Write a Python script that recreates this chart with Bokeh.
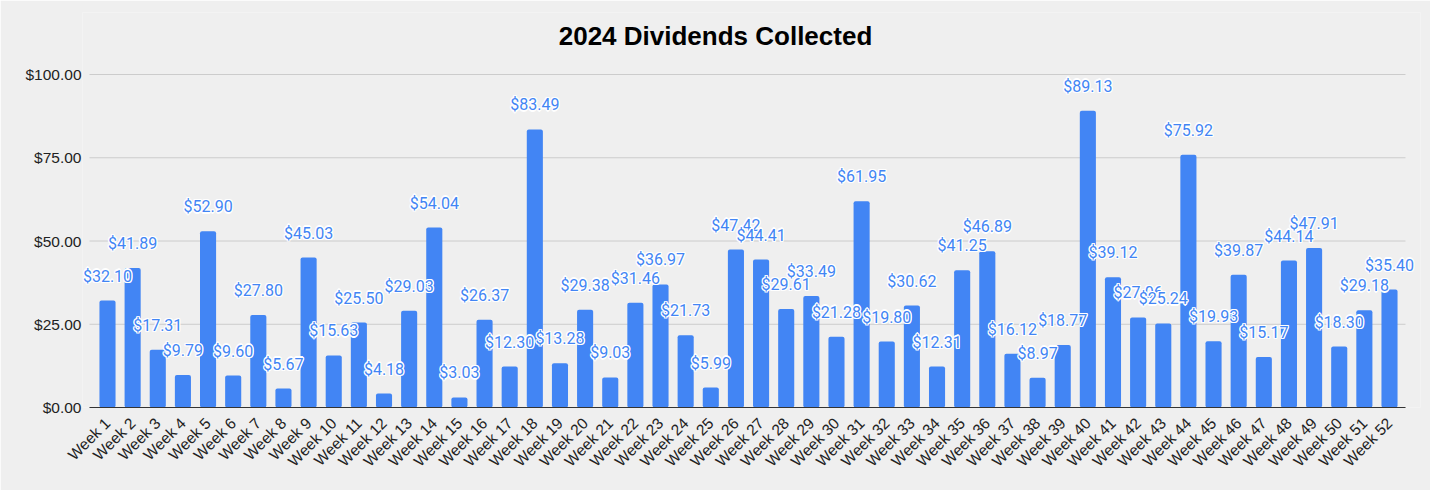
from math import pi

from bokeh.core.properties import value
from bokeh.embed import file_html
from bokeh.models import (ColumnDataSource, FixedTicker, Label, LabelSet,
                          NumeralTickFormatter, Range1d)
from bokeh.plotting import figure
from bokeh.resources import INLINE

# Weekly dividend income for 2024
weeks = [f"Week {i}" for i in range(1, 53)]
dividends = [
    32.10, 41.89, 17.31, 9.79, 52.90, 9.60, 27.80, 5.67, 45.03, 15.63,
    25.50, 4.18, 29.03, 54.04, 3.03, 26.37, 12.30, 83.49, 13.28, 29.38,
    9.03, 31.46, 36.97, 21.73, 5.99, 47.42, 44.41, 29.61, 33.49, 21.28,
    61.95, 19.80, 30.62, 12.31, 41.25, 46.89, 16.12, 8.97, 18.77, 89.13,
    39.12, 27.06, 25.24, 75.92, 19.93, 39.87, 15.17, 44.14, 47.91, 18.30,
    29.18, 35.40,
]
y_ticks = [0, 25, 50, 75, 100]
title_text = "2024 Dividends Collected"

BLUE = "#4285F4"
BG = "#efefef"
W, H = 1430, 490

# canvas layout in pixels: the frame is larger than the gridded area so
# value labels and the title are never clipped
FRAME_L, FRAME_R, FRAME_T, FRAME_B = 82, 1420, 12, 407
GRID_L, GRID_R, GRID_T = 89, 1405, 74
FIRST_C, LAST_C = 107, 1389          # centres of the first / last bar
TITLE_X, TITLE_BASE = 715, 35

n = len(weeks)
px_per_week = (LAST_C - FIRST_C) / (n - 1)
px_per_dollar = (FRAME_B - GRID_T) / y_ticks[-1]


def xdata(px):
    return 1 + (px - FIRST_C) / px_per_week


def ydata(px):
    return (FRAME_B - px) / px_per_dollar


positions = list(range(1, n + 1))
bars = ColumnDataSource(dict(x=positions, top=dividends, week=weeks))

# value labels: each label gets a white halo drawn just before its own text,
# so later labels sit on top of earlier ones
halo_offsets = [(-1.2, 0), (1.2, 0), (0, -1.2), (0, 1.2),
                (-1, -1), (1, -1), (-1, 1), (1, 1)]
lx, ly, lt, lc, lxo, lyo = [], [], [], [], [], []
for pos, v in zip(positions, dividends):
    txt = f"${v:,.2f}"
    for dx, dy in halo_offsets + [(0, 0)]:
        lx.append(pos)
        ly.append(v)
        lt.append(txt)
        lc.append("white" if (dx, dy) != (0, 0) else BLUE)
        lxo.append(dx)
        lyo.append(19 - dy)
labels = ColumnDataSource(dict(x=lx, y=ly, text=lt, color=lc, xo=lxo, yo=lyo))

p = figure(
    width=W, height=H,
    x_range=Range1d(xdata(FRAME_L), xdata(FRAME_R)),
    y_range=Range1d(0, ydata(FRAME_T)),
    output_backend="svg", toolbar_location=None,
    min_border_left=FRAME_L, min_border_right=W - FRAME_R,
    min_border_top=FRAME_T, min_border_bottom=H - FRAME_B,
    background_fill_color=BG, border_fill_color=BG,
)
p.outline_line_color = None
p.xgrid.grid_line_color = None
p.ygrid.grid_line_color = None

# horizontal grid lines across the bar area only
p.segment(x0=[xdata(GRID_L)] * len(y_ticks), x1=[xdata(GRID_R)] * len(y_ticks),
          y0=y_ticks, y1=y_ticks, line_color="#cccccc", line_width=1)

p.vbar(x="x", top="top", width=0.64, source=bars, color=BLUE,
       line_color=None, border_radius=2)

p.add_layout(LabelSet(x="x", y="y", text="text", source=labels,
                      text_color="color", x_offset="xo", y_offset="yo",
                      text_font=value("Roboto"), text_font_size="16px",
                      text_align="center", text_baseline="alphabetic"))

# chart title, centred on the whole canvas
p.add_layout(Label(x=xdata(TITLE_X), y=ydata(TITLE_BASE), text=title_text,
                   text_font="Liberation Sans", text_font_style="bold",
                   text_font_size="26px", text_color="#000000",
                   text_align="center", text_baseline="alphabetic"))

# y axis: dollar ticks, no axis line
p.yaxis.ticker = FixedTicker(ticks=y_ticks)
p.yaxis.formatter = NumeralTickFormatter(format="$0.00")
p.yaxis.axis_line_color = None
p.yaxis.major_tick_line_color = None
p.yaxis.minor_tick_line_color = None
p.yaxis.major_tick_out = 0
p.yaxis.major_tick_in = 0
p.yaxis.major_label_standoff = 1
p.yaxis.major_label_text_font = "Liberation Sans"
p.yaxis.major_label_text_font_size = "15.5px"
p.yaxis.major_label_text_color = "#222222"

# x axis: one rotated label per week
p.xaxis.ticker = FixedTicker(ticks=positions)
p.xaxis.major_label_overrides = {pos: w for pos, w in zip(positions, weeks)}
p.xaxis.major_label_orientation = pi / 4
p.xaxis.bounds = (xdata(GRID_L), xdata(GRID_R))
p.xaxis.axis_line_color = "#333333"
p.xaxis.axis_line_width = 1
p.xaxis.major_tick_line_color = None
p.xaxis.minor_tick_line_color = None
p.xaxis.major_label_standoff = 7
p.xaxis.major_label_text_font = "Liberation Sans"
p.xaxis.major_label_text_font_size = "15.5px"
p.xaxis.major_label_text_color = "#222222"

open("out.html", "w").write(file_html(p, INLINE))
